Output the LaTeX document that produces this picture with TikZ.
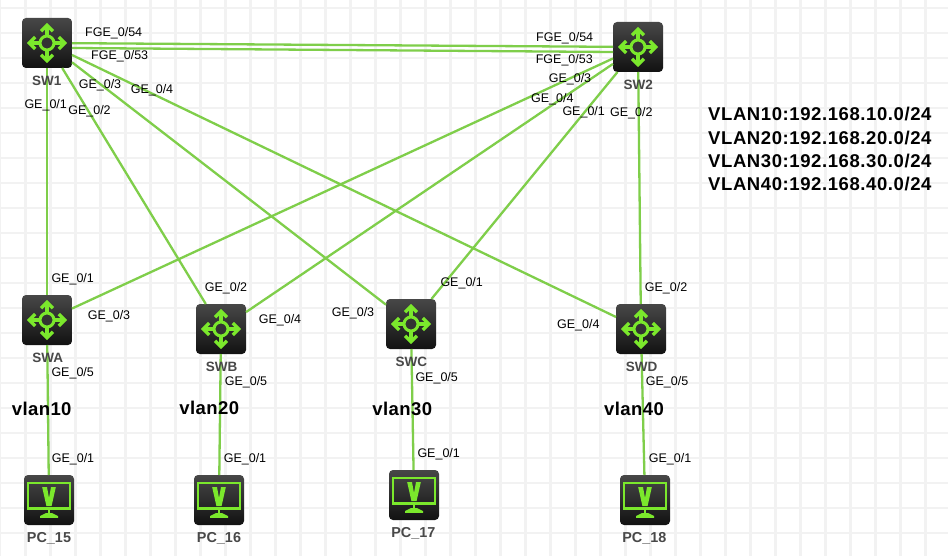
\documentclass[tikz,border=0pt]{standalone}
\usepackage{fontspec}
\setmainfont{Liberation Sans}
\definecolor{linkgreen}{HTML}{7FCE4A}
\definecolor{icongreen}{HTML}{7BE82C}
\definecolor{gridgrey}{HTML}{F2F2F2}
\definecolor{namegrey}{HTML}{484848}
\newcommand{\swarmV}[1]{\fill[icongreen] (0,#1*20) -- (7.2,#1*13) -- (4.8,#1*10.6) -- (1.8,#1*13.6) -- (1.8,#1*8) -- (-1.8,#1*8) -- (-1.8,#1*13.6) -- (-4.8,#1*10.6) -- (-7.2,#1*13) -- cycle;}
\newcommand{\swarmH}[1]{\fill[icongreen] (#1*20,0) -- (#1*13,7.2) -- (#1*10.6,4.8) -- (#1*13.6,1.8) -- (#1*8,1.8) -- (#1*8,-1.8) -- (#1*13.6,-1.8) -- (#1*10.6,-4.8) -- (#1*13,-7.2) -- cycle;}
\newcommand{\swglyph}{%
  \begin{scope}[shift={(path picture bounding box.center)},sharp corners]
    \draw[icongreen,line width=3pt,fill=black!80] (0,0) circle[radius=7];
    \swarmV{1}\swarmV{-1}\swarmH{1}\swarmH{-1}
  \end{scope}}
\newcommand{\pcglyph}{%
  \begin{scope}[shift={(path picture bounding box.center)},sharp corners]
    \draw[icongreen,line width=2.4pt] (-20.8,-17.2) rectangle (20.8,8.4);
    \fill[icongreen] (-6.8,-12.8) -- (-2,-12.8) -- (0,-2) -- (2,-12.8) -- (6.8,-12.8) -- (2.6,6) -- (-2.6,6) -- cycle;
    \fill[icongreen] (-1,9) rectangle (1,13);
    \fill[icongreen] (-3,13) -- (3,13) -- (9,16) -- (9,17.8) -- (-9,17.8) -- (-9,16) -- cycle;
  \end{scope}}
\tikzset{
  device/.style={minimum size=50pt,inner sep=0pt,outer sep=0pt,rounded corners=4pt,top color=black!72,bottom color=black!93,draw=none},
  sw/.style={device,path picture={\swglyph}},
  pc/.style={device,path picture={\pcglyph}},
  link/.style={linkgreen,line width=2.3pt},
  port/.style={inner sep=0pt,text=black,yshift=-1.2pt,font=\fontsize{12.5}{15}\selectfont},
  devname/.style={inner sep=0pt,text=namegrey,font=\bfseries\fontsize{13.5}{16}\selectfont},
  pcname/.style={inner sep=0pt,text=namegrey,font=\bfseries\fontsize{14.4}{17}\selectfont},
  vlanlab/.style={inner sep=0pt,text=black,font=\bfseries\fontsize{18.5}{22}\selectfont\addfontfeature{LetterSpace=2.2}},
  subnet/.style={inner sep=0pt,text=black,font=\bfseries\fontsize{18.5}{23}\selectfont\addfontfeature{LetterSpace=3.2}},
  gridline/.style={gridgrey,line width=2.4pt}
}
\begin{document}
\begin{tikzpicture}[x=1pt,y=-1pt]
\useasboundingbox (0,0) rectangle (948,556);
\fill[white] (0,0) rectangle (948,556);
\foreach \g in {0,25,...,950}{\draw[gridline] (\g+0.3,0) -- (\g+0.3,556);}
\foreach \g in {8,33,...,550}{\draw[gridline] (0,\g) -- (948,\g);}
% devices
\node[sw] (sw1) at (47,43) {};
\node[sw] (sw2) at (638,47) {};
\node[sw] (swa) at (47,320) {};
\node[sw] (swb) at (221,329) {};
\node[sw] (swc) at (411,324) {};
\node[sw] (swd) at (641,329) {};
\node[pc] (pc15) at (49,500) {};
\node[pc] (pc16) at (219,500) {};
\node[pc] (pc17) at (414,495) {};
\node[pc] (pc18) at (645,500) {};
% links
\draw[link] (sw1) -- (sw2);
\draw[link] ([yshift=-5pt]sw1.east) -- ([yshift=-5pt]sw2.west);
\draw[link] (sw1) -- (swa);
\draw[link] (sw1) -- (swb);
\draw[link] (sw1) -- (swc);
\draw[link] (sw1) -- (swd);
\draw[link] (sw2) -- (swa);
\draw[link] (sw2) -- (swb);
\draw[link] (sw2) -- (swc);
\draw[link] (sw2) -- (swd);
\draw[link] (swa) -- (pc15);
\draw[link] (swb) -- (pc16);
\draw[link] (swc) -- (pc17);
\draw[link] (swd) -- (pc18);
% names
\node[devname] (n1) at (46.7,81) {SW1};
\node[devname] (n2) at (638.3,85) {SW2};
\node[devname] (na) at (47.7,358) {SWA};
\node[devname] (nb) at (221.7,367) {SWB};
\node[devname] (nc) at (411.3,362) {SWC};
\node[devname] (nd) at (641.7,367) {SWD};
\node[pcname] (n15) at (49,538) {PC\_15};
\node[pcname] (n16) at (219,538) {PC\_16};
\node[pcname] (n17) at (413.3,533) {PC\_17};
\node[pcname] (n18) at (644.3,538) {PC\_18};
% port labels
\node[port] (p1) at (113.7,32.5) {FGE\_0/54};
\node[port] (p2) at (119.7,55) {FGE\_0/53};
\node[port] (p3) at (100,84.5) {GE\_0/3};
\node[port] (p4) at (152,89.5) {GE\_0/4};
\node[port] (p5) at (45.7,104) {GE\_0/1};
\node[port] (p6) at (89.5,110) {GE\_0/2};
\node[port] (p7) at (564.7,37.5) {FGE\_0/54};
\node[port] (p8) at (564.3,59.5) {FGE\_0/53};
\node[port] (p9) at (570,78.5) {GE\_0/3};
\node[port] (p10) at (552.3,98.5) {GE\_0/4};
\node[port] (p11) at (583.7,111) {GE\_0/1};
\node[port] (p12) at (631.3,112) {GE\_0/2};
\node[port] (p13) at (72.7,278.3) {GE\_0/1};
\node[port] (p14) at (109,315) {GE\_0/3};
\node[port] (p15) at (72.7,372.3) {GE\_0/5};
\node[port] (p16) at (226,287.3) {GE\_0/2};
\node[port] (p17) at (280,319.3) {GE\_0/4};
\node[port] (p18) at (246,381.3) {GE\_0/5};
\node[port] (p19) at (461.7,282.3) {GE\_0/1};
\node[port] (p20) at (353,312.3) {GE\_0/3};
\node[port] (p21) at (436.7,376.7) {GE\_0/5};
\node[port] (p22) at (578.3,324) {GE\_0/4};
\node[port] (p23) at (666,287.3) {GE\_0/2};
\node[port] (p24) at (667,381.3) {GE\_0/5};
\node[port] (p25) at (73,458) {GE\_0/1};
\node[port] (p26) at (245,458) {GE\_0/1};
\node[port] (p27) at (438.7,453.3) {GE\_0/1};
\node[port] (p28) at (670,458) {GE\_0/1};
% vlan labels
\node[vlanlab] (v10) at (41.7,409.3) {vlan10};
\node[vlanlab] (v20) at (209.3,408.3) {vlan20};
\node[vlanlab] (v30) at (402.3,409.3) {vlan30};
\node[vlanlab] (v40) at (634,409.3) {vlan40};
\node[subnet,anchor=west] (s1) at (708,114.3) {VLAN10:192.168.10.0/24};
\node[subnet,anchor=west] (s2) at (708,137.5) {VLAN20:192.168.20.0/24};
\node[subnet,anchor=west] (s3) at (708,160.7) {VLAN30:192.168.30.0/24};
\node[subnet,anchor=west] (s4) at (708,183.8) {VLAN40:192.168.40.0/24};
\end{tikzpicture}
\end{document}
